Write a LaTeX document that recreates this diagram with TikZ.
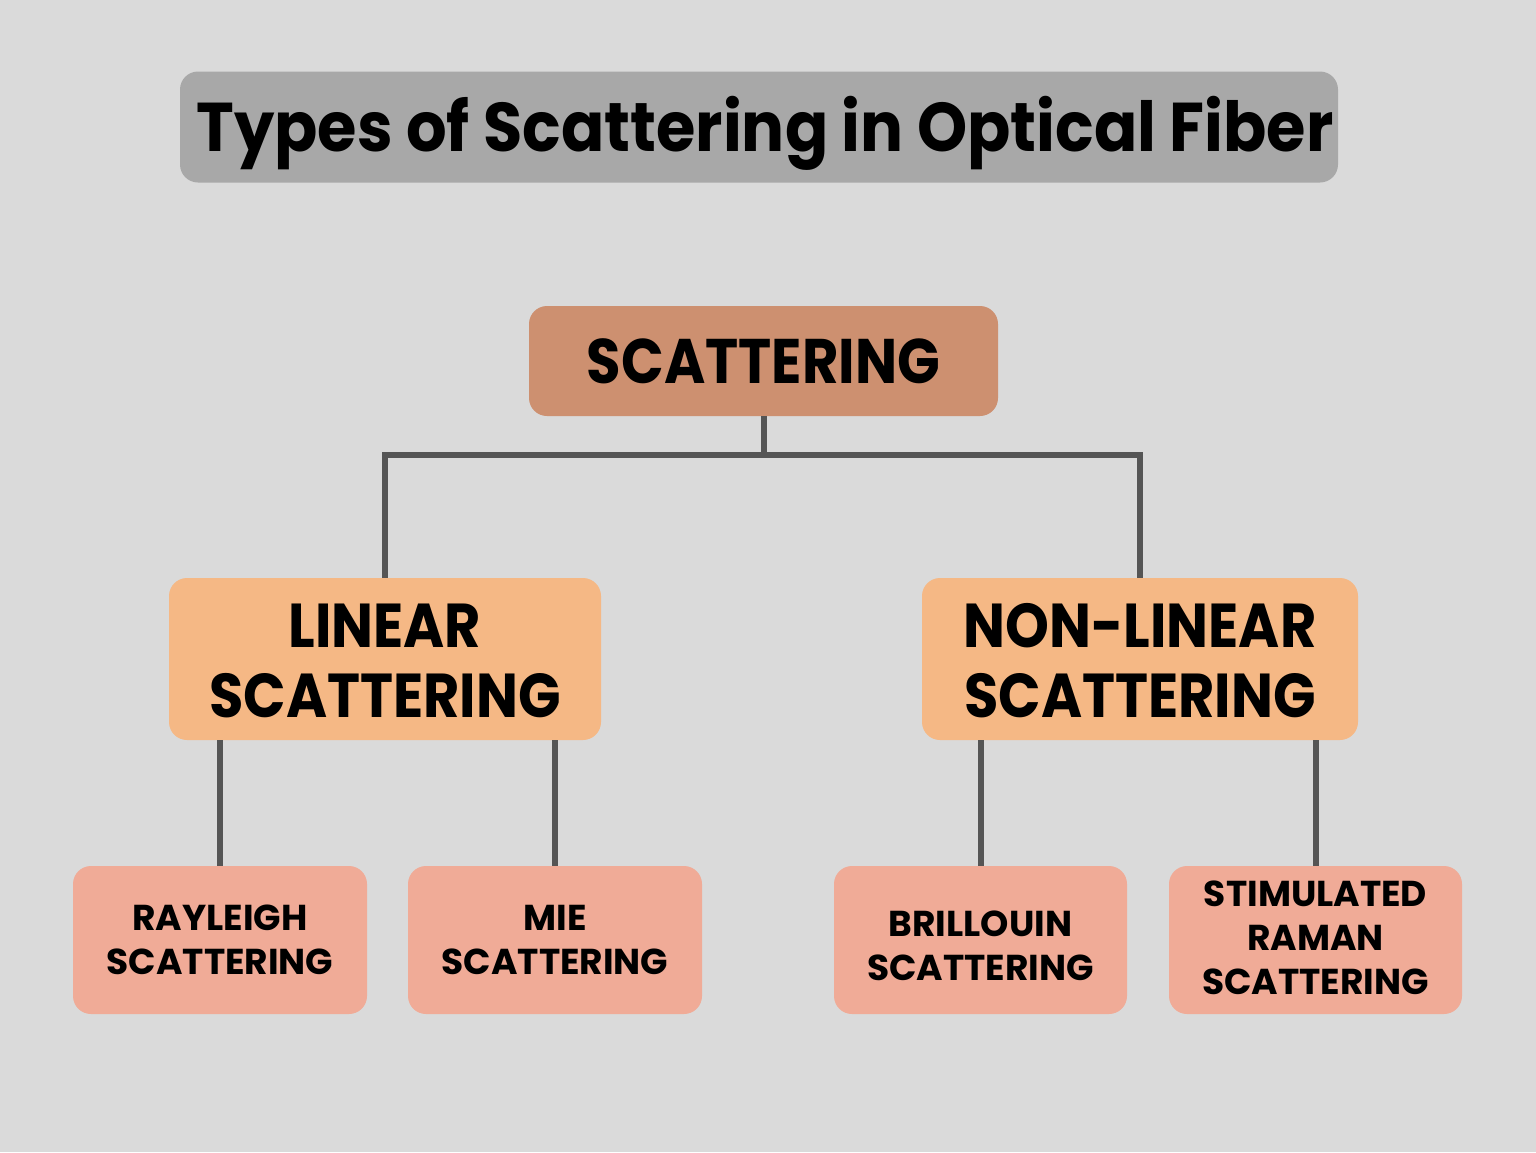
\documentclass[tikz,border=0pt]{standalone}
\usepackage{fontspec}
\setmainfont{Poppins}[BoldFont=* Bold]
\usepackage{graphicx}
\definecolor{bg}{HTML}{DADADA}
\definecolor{titlegray}{HTML}{A8A8A8}
\definecolor{topc}{HTML}{CD9070}
\definecolor{midc}{HTML}{F5B885}
\definecolor{lowc}{HTML}{F0AB97}
\definecolor{linec}{HTML}{555555}
\newcommand{\lowerby}[2]{\raisebox{-#1}[\height][\depth]{#2}}
\begin{document}
\begin{tikzpicture}[x=1pt,y=-1pt,
  box/.style={rounded corners=18pt, inner sep=0pt, align=center, text=black},
  conn/.style={draw=linec, line width=6pt},
  topfont/.style={font=\bfseries\fontsize{63}{70}\selectfont},
  midfont/.style={font=\bfseries\fontsize{62}{70}\selectfont},
  lowfont/.style={font=\bfseries\fontsize{36}{44}\selectfont}]
\fill[bg] (0,0) rectangle (1536,1152);
\useasboundingbox (0,0) rectangle (1536,1152);
\node[box, fill=titlegray, minimum width=1158pt, minimum height=111pt, font=\bfseries\fontsize{69}{78}\selectfont] (title) at (759,127) {\hspace*{12pt}\lowerby{6.5pt}{\scalebox{0.925}[1]{Types of Scattering in Optical Fiber}}};
\node[box, fill=topc, minimum width=469pt, minimum height=110pt, topfont] (scat) at (763.5,361) {\scalebox{0.89}[1]{SCATTERING}};
\node[box, fill=midc, minimum width=432pt, minimum height=162pt, midfont] (lin) at (385,659) {\lowerby{9.5pt}{\scalebox{0.9}[1]{\begin{tabular}{c}LINEAR\\SCATTERING\end{tabular}}}};
\node[box, fill=midc, minimum width=436pt, minimum height=162pt, midfont] (nonlin) at (1140,659) {\lowerby{9.5pt}{\scalebox{0.9}[1]{\begin{tabular}{c}NON-LINEAR\\SCATTERING\end{tabular}}}};
\node[box, fill=lowc, minimum width=294pt, minimum height=148pt, lowfont] (ray) at (220,940) {\lowerby{4pt}{\begin{tabular}{c}RAYLEIGH\\SCATTERING\end{tabular}}};
\node[box, fill=lowc, minimum width=294pt, minimum height=148pt, lowfont] (mie) at (555,940) {\lowerby{4pt}{\begin{tabular}{c}MIE\\SCATTERING\end{tabular}}};
\node[box, fill=lowc, minimum width=293pt, minimum height=148pt, lowfont] (bri) at (980.5,940) {\lowerby{9.5pt}{\begin{tabular}{c}BRILLOUIN\\SCATTERING\end{tabular}}};
\node[box, fill=lowc, minimum width=293pt, minimum height=148pt, lowfont] (ram) at (1315.5,940) {\lowerby{2pt}{\begin{tabular}{c}STIMULATED\\RAMAN\\SCATTERING\end{tabular}}};
\draw[conn] (scat.south) -- ++(0,39) coordinate (j);
\draw[conn] (lin.north) |- (j) -| (nonlin.north);
\draw[conn] (ray.north) -- (ray.north |- lin.south);
\draw[conn] (mie.north) -- (mie.north |- lin.south);
\draw[conn] (bri.north) -- (bri.north |- nonlin.south);
\draw[conn] (ram.north) -- (ram.north |- nonlin.south);
\end{tikzpicture}
\end{document}
